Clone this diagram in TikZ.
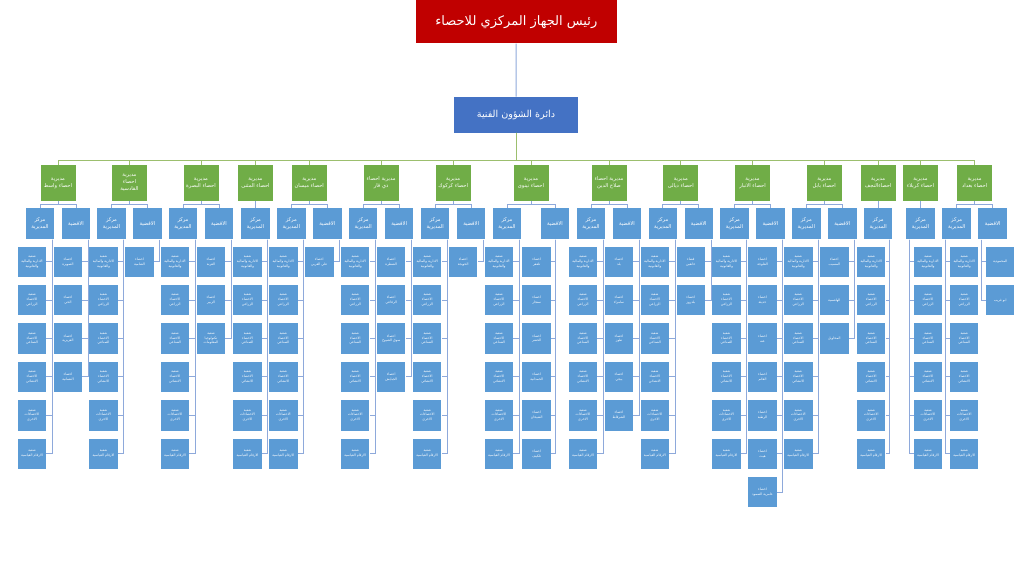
\documentclass[tikz,border=0pt]{standalone}
\usepackage{fontspec}
\newfontfamily\arabicfont[Script=Arabic]{DejaVu Sans}
\TeXXeTstate=1
\usetikzlibrary{positioning}
\newcommand{\artext}[1]{\beginR #1\endR}
\definecolor{headred}{HTML}{C00000}
\definecolor{deptblue}{HTML}{4472C4}
\definecolor{dirgreen}{HTML}{70AD47}
\definecolor{unitblue}{HTML}{5B9BD5}
\definecolor{linkblue}{HTML}{8EA9DB}
\definecolor{linkgreen}{HTML}{9CBF6E}

\begin{document}
\begin{tikzpicture}[x=1pt, y=-1pt,
    box/.style={rectangle, inner sep=0pt, align=center, text=white},
    head node/.style={box, fill=headred, minimum width=200.7pt, minimum height=43.3pt, font=\arabicfont\fontsize{13}{15}\selectfont},
    dept node/.style={box, fill=deptblue, minimum width=123.4pt, minimum height=36pt, font=\arabicfont\fontsize{9.6}{11}\selectfont},
    dir node/.style={box, fill=dirgreen, minimum width=35pt, minimum height=36pt, font=\arabicfont\fontsize{5.2}{7}\selectfont},
    sub node/.style={box, fill=unitblue, minimum width=28.5pt, minimum height=31pt, font=\arabicfont\fontsize{5.2}{7.4}\selectfont},
    leaf node/.style={box, fill=unitblue, minimum width=28.5pt, minimum height=30.5pt, font=\arabicfont\fontsize{3.4}{4.8}\selectfont},
    link/.style={draw=linkblue, line width=1pt},
    bus/.style={draw=linkgreen, line width=1pt}]
    \fill[white] (0,0) rectangle (1024,576);
    \useasboundingbox (0,0) rectangle (1024,576);

    \node[head node] (head) at (516.3,21.7) {\artext{رئيس الجهاز المركزي للاحصاء}};
    \node[dept node] (daira) at (516,114.7) {\artext{دائرة الشؤون الفنية}};

    % directorates
    \node[dir node] (g1) at (58,183) {\artext{مديرية}\\\artext{احصاء واسط}};
    \node[dir node] (g2) at (129.5,183) {\artext{مديرية}\\\artext{احصاء}\\\artext{القادسية}};
    \node[dir node] (g3) at (201,183) {\artext{مديرية}\\\artext{احصاء البصرة}};
    \node[dir node] (g4) at (255.5,183) {\artext{مديرية}\\\artext{احصاء المثنى}};
    \node[dir node] (g5) at (309.3,183) {\artext{مديرية}\\\artext{احصاء ميسان}};
    \node[dir node] (g6) at (381.2,183) {\artext{مديرية احصاء}\\\artext{ذي قار}};
    \node[dir node] (g7) at (453.2,183) {\artext{مديرية}\\\artext{احصاء كركوك}};
    \node[dir node] (g8) at (531,183) {\artext{مديرية}\\\artext{احصاء نينوى}};
    \node[dir node] (g9) at (609,183) {\artext{مديرية احصاء}\\\artext{صلاح الدين}};
    \node[dir node] (g10) at (680.8,183) {\artext{مديرية}\\\artext{احصاء ديالى}};
    \node[dir node] (g11) at (752.5,183) {\artext{مديرية}\\\artext{احصاء الانبار}};
    \node[dir node] (g12) at (824.3,183) {\artext{مديرية}\\\artext{احصاء بابل}};
    \node[dir node] (g13) at (878.2,183) {\artext{مديرية}\\\artext{احصاءالنجف}};
    \node[dir node] (g14) at (920.5,183) {\artext{مديرية}\\\artext{احصاء كربلاء}};
    \node[dir node] (g15) at (974.7,183) {\artext{مديرية}\\\artext{احصاء بغداد}};

    % centre and district units
    \foreach \i/\cs/\ds in {1/-18/18, 2/-18/18, 3/-18/18, 5/-18/18, 6/-18/18, 7/-18/18, 8/-24/24,
                            9/-18/18, 10/-18/18, 11/-18/18, 12/-18/18, 15/-18/18} {
        \node[sub node, below=7pt of g\i, xshift=\cs pt] (c\i) {\artext{مركز}\\\artext{المديرية}};
        \node[sub node, below=7pt of g\i, xshift=\ds pt] (d\i) {\artext{الاقضية}};
        \draw[link] (g\i.south) -- ++(0,3.5) -| (c\i.north);
        \draw[link] (g\i.south) -- ++(0,3.5) -| (d\i.north);
    }
    \foreach \i in {4,13,14} {
        \node[sub node, below=7pt of g\i] (c\i) {\artext{مركز}\\\artext{المديرية}};
        \draw[link] (g\i) -- (c\i);
    }

    \draw[link] (head) -- (daira);
    \foreach \i in {1,...,15}
        \draw[bus] (daira.south) -- ++(0,28) -| (g\i.north);

    % sections under each centre
    \foreach \p/\cx/\dx/\ca in {c1/-8/12.25/east, c2/-8/12.25/east, c3/-8/12.25/east, c4/-8/12.25/east,
                                c5/-8/12.25/east, c6/-8/12.25/east, c7/-8/12.25/east, c8/-8/12.25/east,
                                c9/-8/12.25/east, c10/-8/12.25/east, c11/-8/12.25/east, c12/-8/12.25/east,
                                c13/-7/11.5/east, c14/7.5/-10.9/west, c15/7.5/-10.9/west} {
        \foreach \t [count=\k] in {{\artext{شعبة}\\\artext{الادارية والمالية}\\\artext{والقانونية}},
                                   {\artext{شعبة}\\\artext{الاحصاء}\\\artext{الزراعي}},
                                   {\artext{شعبة}\\\artext{الاحصاء}\\\artext{الصناعي}},
                                   {\artext{شعبة}\\\artext{الاحصاء}\\\artext{الانشائي}},
                                   {\artext{شعبة}\\\artext{الاحصاءات}\\\artext{الاخرى}},
                                   {\artext{شعبة}\\\artext{الارقام القياسية}}} {
            \pgfmathtruncatemacro{\j}{\k-1}
            \ifnum\k=1
                \node[leaf node, below=6.7pt of \p, xshift=\cx pt] (\p-\k) {\t};
            \else
                \node[leaf node, below=7.5pt of \p-\j] (\p-\k) {\t};
            \fi
            \draw[link] ([xshift=\dx pt]\p.south) |- (\p-\k.\ca);
        }
    }

    % districts
    \foreach \p/\cx/\dx/\ca/\lst in {
        d1/-8/12.25/east/{{\artext{احصاء}\\\artext{الصويرة}}, {\artext{احصاء}\\\artext{الحي}}, {\artext{احصاء}\\\artext{العزيزية}}, {\artext{احصاء}\\\artext{النعمانية}}},
        d2/-8/12.25/east/{{\artext{احصاء}\\\artext{الشامية}}},
        d3/-8/12.25/east/{{\artext{احصاء}\\\artext{القرنة}}, {\artext{احصاء}\\\artext{الزبير}}, {\artext{شعبة}\\\artext{تكنولوجيا}\\\artext{المعلومات}}},
        d5/-8/12.25/east/{{\artext{احصاء}\\\artext{علي الغربي}}},
        d6/-8/12.25/east/{{\artext{احصاء}\\\artext{الشطرة}}, {\artext{احصاء}\\\artext{الرفاعي}}, {\artext{احصاء}\\\artext{سوق الشيوخ}}, {\artext{احصاء}\\\artext{الجبايش}}},
        d7/-8/12.25/east/{{\artext{احصاء}\\\artext{الحويجة}}},
        d8/-18.3/0/east/{{\artext{احصاء}\\\artext{تلعفر}}, {\artext{احصاء}\\\artext{سنجار}}, {\artext{احصاء}\\\artext{الحضر}}, {\artext{احصاء}\\\artext{الحمدانية}}, {\artext{احصاء}\\\artext{الشيخان}}, {\artext{احصاء}\\\artext{تلكيف}}},
        d9/-8/12.25/east/{{\artext{احصاء}\\\artext{بلد}}, {\artext{احصاء}\\\artext{سامراء}}, {\artext{احصاء}\\\artext{طوز}}, {\artext{احصاء}\\\artext{بيجي}}, {\artext{احصاء}\\\artext{الشرقاط}}},
        d10/-8/12.25/east/{{\artext{قضاء}\\\artext{خانقين}}, {\artext{احصاء}\\\artext{بلدروز}}},
        d11/-8/12.25/east/{{\artext{احصاء}\\\artext{الفلوجة}}, {\artext{احصاء}\\\artext{حديثة}}, {\artext{احصاء}\\\artext{عنه}}, {\artext{احصاء}\\\artext{القائم}}, {\artext{احصاء}\\\artext{الرطبة}}, {\artext{احصاء}\\\artext{هيت}}, {\artext{احصاء}\\\artext{عامرية الصمود}}},
        d12/-8/12.25/east/{{\artext{احصاء}\\\artext{المسيب}}, {\artext{الهاشمية}}, {\artext{المحاويل}}},
        d15/7.5/-10.9/west/{{\artext{المحمودية}}, {\artext{ابو غريب}}}} {
        \foreach \t [count=\k] in \lst {
            \pgfmathtruncatemacro{\j}{\k-1}
            \ifnum\k=1
                \node[leaf node, below=6.7pt of \p, xshift=\cx pt] (\p-\k) {\t};
            \else
                \node[leaf node, below=7.5pt of \p-\j] (\p-\k) {\t};
            \fi
            \draw[link] ([xshift=\dx pt]\p.south) |- (\p-\k.\ca);
        }
    }
\end{tikzpicture}
\end{document}
